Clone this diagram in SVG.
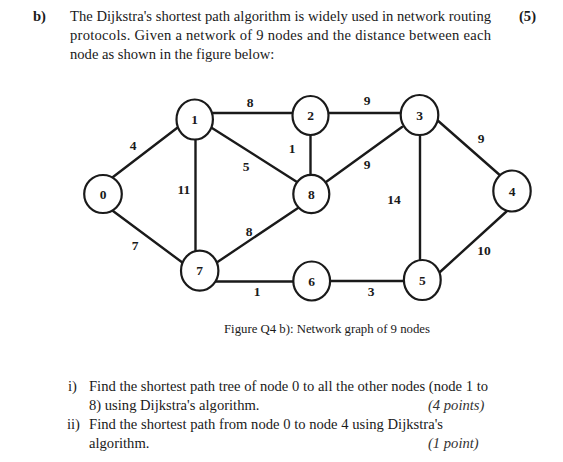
<svg xmlns="http://www.w3.org/2000/svg" width="563" height="462" viewBox="0 0 563 462">
<style>
.t{font-family:"Liberation Serif","Times New Roman",serif;font-size:14.6px;fill:#1a1a1a}
.b{font-weight:bold}
.it{font-style:italic;fill:#333}
.cap{font-size:12.8px}
.lbl{font-family:"Liberation Serif","Times New Roman",serif;font-size:13.5px;font-weight:bold;fill:#1a1a1a;text-anchor:middle}
.e{stroke:#1a1a1a;stroke-width:2.4;fill:none;stroke-linecap:round}
.n{fill:#fff;stroke:#1a1a1a;stroke-width:2.2}
</style>
<rect width="563" height="462" fill="#fff"/>
<g id="header">
<text class="t b" x="33" y="21">b)</text>
<text class="t" x="70" y="21" textLength="421" lengthAdjust="spacing">The Dijkstra's shortest path algorithm is widely used in network routing</text>
<text class="t b" x="519" y="21">(5)</text>
<text class="t" x="70" y="40" textLength="421" lengthAdjust="spacing">protocols. Given a network of 9 nodes and the distance between each</text>
<text class="t" x="70" y="59">node as shown in the figure below:</text>
</g>
<g id="connectors">
<line class="e" x1="113" y1="177" x2="177" y2="128"/>
<line class="e" x1="113" y1="211" x2="183" y2="263"/>
<line class="e" x1="195.5" y1="138" x2="195.5" y2="251"/>
<line class="e" x1="212" y1="113" x2="293" y2="113"/>
<line class="e" x1="212" y1="128" x2="297" y2="182"/>
<line class="e" x1="310.5" y1="133" x2="310.5" y2="175"/>
<line class="e" x1="216" y1="263" x2="298" y2="208"/>
<line class="e" x1="215" y1="281.5" x2="293" y2="281.5"/>
<line class="e" x1="328" y1="113" x2="402" y2="113"/>
<line class="e" x1="326" y1="182" x2="402" y2="127"/>
<line class="e" x1="420" y1="135" x2="420" y2="260"/>
<line class="e" x1="436" y1="119" x2="502" y2="177"/>
<line class="e" x1="440" y1="272" x2="507" y2="211"/>
<line class="e" x1="330" y1="281" x2="405" y2="281"/>
<text class="lbl" x="133" y="149.5">4</text>
<text class="lbl" x="135" y="249.5">7</text>
<text class="lbl" x="184" y="194">11</text>
<text class="lbl" x="250" y="107">8</text>
<text class="lbl" x="292" y="153">1</text>
<text class="lbl" x="246" y="170.5">5</text>
<text class="lbl" x="249" y="236">8</text>
<text class="lbl" x="257" y="295.5">1</text>
<text class="lbl" x="367" y="105">9</text>
<text class="lbl" x="367" y="169">9</text>
<text class="lbl" x="481" y="142.5">9</text>
<text class="lbl" x="394" y="204">14</text>
<text class="lbl" x="484" y="255">10</text>
<text class="lbl" x="371" y="295.5">3</text>
</g>
<g id="node0"><ellipse class="n" cx="103" cy="194" rx="18.8" ry="19"/><text class="lbl" x="103" y="198.5">0</text></g>
<g id="node1"><ellipse class="n" cx="194.7" cy="119.5" rx="18.2" ry="20"/><text class="lbl" x="194.7" y="124">1</text></g>
<g id="node2"><ellipse class="n" cx="310.5" cy="115.5" rx="18" ry="19.5"/><text class="lbl" x="310.5" y="120">2</text></g>
<g id="node3"><ellipse class="n" cx="419.5" cy="115" rx="18.8" ry="20"/><text class="lbl" x="419.5" y="119.5">3</text></g>
<g id="node4"><ellipse class="n" cx="512" cy="191" rx="18.7" ry="20.5"/><text class="lbl" x="512" y="195.5">4</text></g>
<g id="node5"><ellipse class="n" cx="422.3" cy="280" rx="18.4" ry="20"/><text class="lbl" x="422.3" y="284.5">5</text></g>
<g id="node6"><ellipse class="n" cx="311.7" cy="281" rx="18.4" ry="19.5"/><text class="lbl" x="311.7" y="285.5">6</text></g>
<g id="node7"><ellipse class="n" cx="199.7" cy="270.7" rx="18.7" ry="20"/><text class="lbl" x="199.7" y="275.2">7</text></g>
<g id="node8"><ellipse class="n" cx="311.3" cy="194" rx="18" ry="19.2"/><text class="lbl" x="311.3" y="198.5">8</text></g>
<g id="footer">
<text class="t cap" x="224" y="333" textLength="206" lengthAdjust="spacing">Figure Q4 b): Network graph of 9 nodes</text>
<text class="t" x="68" y="391">i)</text>
<text class="t" x="89" y="391" textLength="399" lengthAdjust="spacing">Find the shortest path tree of node 0 to all the other nodes (node 1 to</text>
<text class="t" x="89" y="410">8) using Dijkstra's algorithm.</text>
<text class="t it" x="428" y="410">(4 points)</text>
<text class="t" x="67" y="429">ii)</text>
<text class="t" x="89" y="429" textLength="354" lengthAdjust="spacing">Find the shortest path from node 0 to node 4 using Dijkstra's</text>
<text class="t" x="89" y="448">algorithm.</text>
<text class="t it" x="428" y="448">(1 point)</text>
</g>
</svg>
